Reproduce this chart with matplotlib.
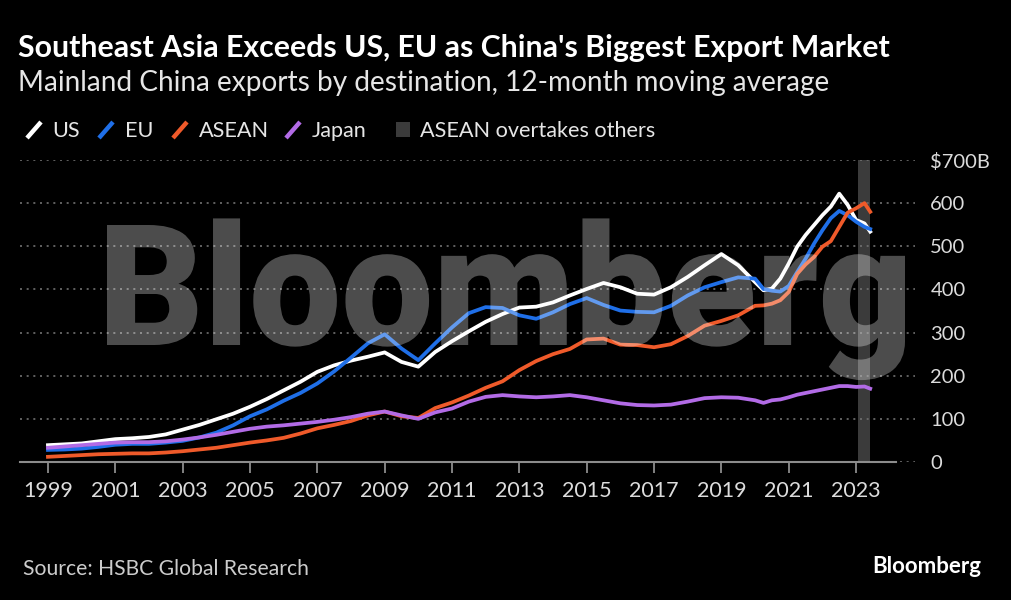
import matplotlib.pyplot as plt
from matplotlib.lines import Line2D
from matplotlib.patches import Rectangle, PathPatch
from matplotlib.textpath import TextPath
from matplotlib.font_manager import FontProperties
from matplotlib.transforms import Affine2D

# 12-month moving average of exports, $B, by destination
years = [1999.0, 1999.5, 2000.0, 2000.5, 2001.0, 2001.5, 2002.0, 2002.5, 2003.0, 2003.5,
         2004.0, 2004.5, 2005.0, 2005.5, 2006.0, 2006.5, 2007.0, 2007.5, 2008.0, 2008.5,
         2009.0, 2009.5, 2010.0, 2010.5, 2011.0, 2011.5, 2012.0, 2012.5, 2013.0, 2013.5,
         2014.0, 2014.5, 2015.0, 2015.5, 2016.0, 2016.5, 2017.0, 2017.5, 2018.0, 2018.5,
         2019.0, 2019.5, 2020.0, 2020.25, 2020.5, 2020.75, 2021.0, 2021.25, 2021.5, 2021.75,
         2022.0, 2022.25, 2022.5, 2022.75, 2023.0, 2023.25, 2023.42]

us = [39, 41, 43, 48, 53, 55, 58, 64, 75, 86,
      99, 112, 128, 146, 166, 186, 209, 224, 235, 244,
      254, 232, 221, 255, 280, 303, 325, 343, 358, 360,
      370, 386, 401, 415, 405, 390, 388, 405, 429, 456,
      482, 456, 417, 398, 402, 425, 460, 499, 526, 549,
      572, 592, 622, 596, 561, 553, 534]

eu = [28, 29, 31, 35, 40, 42, 42, 45, 49, 57,
      68, 85, 106, 122, 142, 160, 182, 210, 242, 275,
      296, 263, 236, 275, 312, 345, 359, 357, 340, 332,
      347, 366, 380, 364, 351, 348, 347, 362, 386, 405,
      417, 428, 425, 401, 397, 395, 408, 440, 471, 506,
      537, 565, 582, 572, 557, 545, 540]

asean = [12, 14, 16, 18, 19, 20, 20, 22, 25, 29,
         33, 39, 45, 50, 56, 66, 78, 86, 95, 108,
         117, 106, 102, 125, 138, 154, 172, 187, 213, 234,
         250, 262, 284, 286, 272, 271, 266, 273, 292, 316,
         327, 340, 362, 363, 367, 375, 394, 436, 458, 475,
         499, 512, 545, 578, 588, 600, 580]

japan = [33, 36, 39, 42, 45, 46, 46, 48, 52, 57,
         63, 70, 77, 82, 85, 89, 93, 98, 104, 112,
         117, 108, 100, 115, 124, 140, 151, 155, 152, 150,
         152, 155, 150, 143, 136, 132, 131, 133, 140, 148,
         150, 149, 143, 137, 143, 145, 150, 156, 160, 164,
         168, 172, 176, 176, 174, 175, 170]

band_start, band_end = 2023.05, 2023.42
tick_years = list(range(1999, 2024, 2))
y_ticks = [0, 100, 200, 300, 400, 500, 600, 700]

colors = {'US': '#ffffff', 'EU': '#1f6fe8', 'ASEAN': '#ef5a2a', 'Japan': '#b26be6'}
band_color = '#3b3b3b'
FONT = 'Lato'

W, H = 1012, 600


def fx(x):
    return x / W


def fy(y):
    return 1 - y / H


fig = plt.figure(figsize=(W / 100, H / 100), dpi=100, facecolor='black')
ax = fig.add_axes([fx(20), fy(462), (915 - 20) / W, (462 - 160) / H])
ax.set_facecolor('black')
ax.set_xlim(1998.17, 2024.75)
ax.set_ylim(0, 700)

ax.axvspan(band_start, band_end, color=band_color, zorder=0.5, lw=0)

for name, vals in [('US', us), ('EU', eu), ('ASEAN', asean), ('Japan', japan)]:
    ax.plot(years, vals, color=colors[name], lw=2.7, zorder=3, solid_joinstyle='round')

# grid + axes
ax.set_yticks(y_ticks)
ax.set_yticklabels([str(v) if v < 700 else '$700B' for v in y_ticks])
ax.yaxis.tick_right()
ax.yaxis.grid(True, color='#707070', lw=1.2, ls=(0, (1.2, 2.8)), zorder=1)
ax.tick_params(axis='y', length=0, pad=11, labelsize=14.5, labelcolor='#dcdcdc')
for lab in ax.get_yticklabels():
    lab.set_fontfamily(FONT)

ax.set_xticks(tick_years)
ax.set_xticklabels([str(y) for y in tick_years])
ax.tick_params(axis='x', length=8, width=1.3, color='#8c8c8c', pad=6,
               labelsize=15.5, labelcolor='#dcdcdc')
for lab in ax.get_xticklabels():
    lab.set_fontfamily(FONT)

for s in ['top', 'left', 'right']:
    ax.spines[s].set_visible(False)
ax.spines['bottom'].set_color('#8c8c8c')
ax.spines['bottom'].set_linewidth(1.5)
ax.spines['bottom'].set_bounds(1998.17, 2024.2)
ax.spines['bottom'].set_zorder(4)

# titles
fig.text(fx(18), fy(57), "Southeast Asia Exceeds US, EU as China's Biggest Export Market",
         fontsize=21.8, fontweight='bold', color='white', family=FONT, va='baseline')
fig.text(fx(18), fy(91), 'Mainland China exports by destination, 12-month moving average',
         fontsize=20.2, color='#e6e6e6', family=FONT, va='baseline')

# legend
legend_items = [('US', 25, 52), ('EU', 97, 125), ('ASEAN', 171, 199), ('Japan', 284, 312)]
for name, x0, xt in legend_items:
    fig.add_artist(Line2D([fx(x0 + 2), fx(x0 + 16)], [fy(138), fy(122)],
                          transform=fig.transFigure, color=colors[name], lw=3.2,
                          solid_capstyle='butt'))
    fig.text(fx(xt), fy(137), name, fontsize=15.6, color='#e6e6e6', family=FONT, va='baseline')
fig.add_artist(Rectangle((fx(396), fy(137)), 14 / W, 15 / H, transform=fig.transFigure,
                         color=band_color, lw=0))
fig.text(fx(420), fy(137), 'ASEAN overtakes others', fontsize=15.6, color='#e6e6e6',
         family=FONT, va='baseline')

# watermark: squeeze the glyphs into the box the original uses
wm_font = FontProperties(family='Roboto', weight='black')
wm_path = TextPath((0, 0), 'Bloomberg', size=100, prop=wm_font)
cap = TextPath((0, 0), 'B', size=100, prop=wm_font).get_extents()
ext = wm_path.get_extents()
sx = (905 - 107) / ext.width
sy = (345 - 225) / cap.y1
wm_tr = (Affine2D().translate(-ext.x0, 0).scale(sx / W, sy / H)
         .translate(fx(107), fy(345)) + fig.transFigure)
fig.add_artist(PathPatch(wm_path, transform=wm_tr, facecolor='white', alpha=0.3,
                         lw=0, zorder=10))

# footer
fig.text(fx(23), fy(575), 'Source: HSBC Global Research', fontsize=15.2, color='#cccccc',
         family=FONT, va='baseline')
fig.text(fx(981), fy(573), 'Bloomberg', fontsize=16, fontweight='bold', color='white',
         family=FONT, va='baseline', ha='right')

fig.savefig('out.png', dpi=100, facecolor='black')
